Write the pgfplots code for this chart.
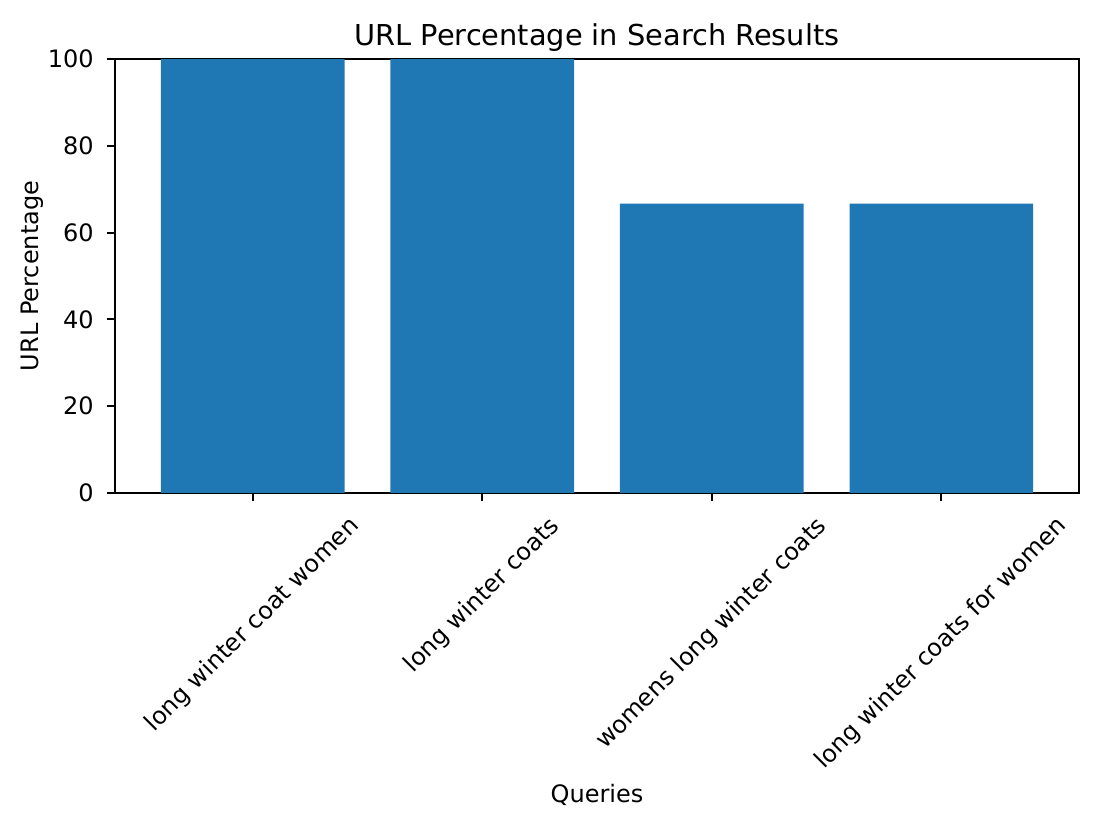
\documentclass[border=0pt]{standalone}
\usepackage{pgfplots}
\pgfplotsset{compat=1.18}
\usepackage{fontspec}
\setmainfont{DejaVu Sans}
\usepackage{graphicx}
\definecolor{mplblue}{HTML}{1F77B4}
\begin{document}
\begin{tikzpicture}
\begin{axis}[
  scale only axis,
  width=401.7pt, height=180.8pt,
  xmin=-0.6, xmax=3.6, ymin=0, ymax=100,
  enlargelimits=false,
  ybar, bar width=0.8,
  xtick={0,1,2,3},
  xticklabels={\rotatebox{45}{long winter coat women},\rotatebox{45}{long winter coats},\rotatebox{45}{womens long winter coats},\rotatebox{45}{long winter coats for women}},
  ytick={0,20,40,60,80,100},
  tick align=outside,
  xtick pos=bottom, ytick pos=left,
  major tick length=3.5pt,
  tick style={black, line width=0.8pt},
  axis line style={line width=0.8pt},
  every axis/.append style={line width=0.8pt},
  /pgf/number format/assume math mode=true,
  tick label style={font=\fontsize{10}{12}\selectfont},
  xticklabel style={anchor=north, inner sep=0pt, yshift=-5pt},
  yticklabel style={inner sep=0pt, xshift=-5pt, anchor=east},
  title={URL Percentage in Search Results},
  title style={font=\fontsize{12}{14}\selectfont, anchor=south, yshift=-6.6pt},
  xlabel={Queries},
  ylabel={URL Percentage},
  xlabel style={yshift=-1pt},
  ylabel style={yshift=-2pt},
  label style={font=\fontsize{10}{12}\selectfont},
]
\addplot[fill=mplblue, draw=none] coordinates {(0,100) (1,100) (2,66.67) (3,66.67)};
\coordinate (O) at (rel axis cs:0,0);
\end{axis}
\pgfresetboundingbox
\path[use as bounding box] ([shift={(-47.9pt,-139.6pt)}]O) rectangle ([shift={(412.1pt,205.4pt)}]O);
\end{tikzpicture}
\end{document}
